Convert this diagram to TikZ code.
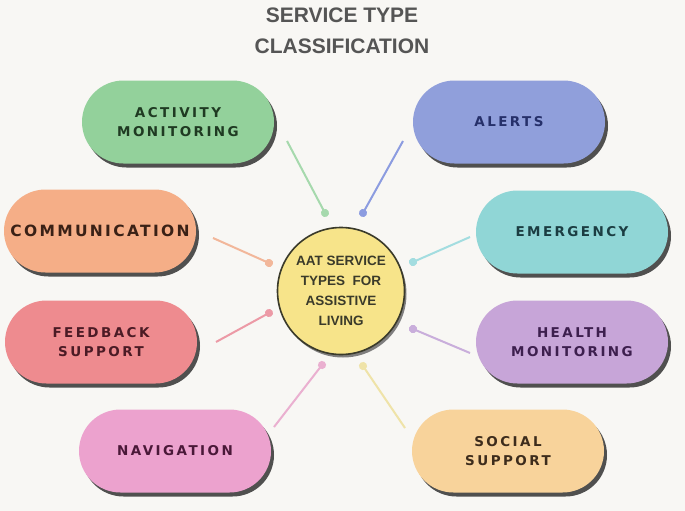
\documentclass[tikz,border=0pt]{standalone}
\usepackage{fontspec}
\setmainfont{Liberation Sans}
\newfontfamily\pillfont{DejaVu Sans}[LetterSpace=18]
\newfontfamily\pillfontb{DejaVu Sans}[LetterSpace=15]
\usetikzlibrary{shadows,calc,arrows.meta}
\definecolor{bgcol}{HTML}{F8F7F4}
\definecolor{titlecol}{HTML}{555555}
\definecolor{fgreen}{HTML}{93D19B}\definecolor{tgreen}{HTML}{1F3A22}\definecolor{lgreen}{HTML}{A6D9AD}
\definecolor{fblue}{HTML}{909FDB}\definecolor{tblue}{HTML}{26306A}\definecolor{lblue}{HTML}{8C9CE0}
\definecolor{fpeach}{HTML}{F5AE87}\definecolor{tpeach}{HTML}{3A2116}\definecolor{lpeach}{HTML}{F2B79A}
\definecolor{fred}{HTML}{EE8B8F}\definecolor{tred}{HTML}{4B1B25}\definecolor{lred}{HTML}{EC9AA6}
\definecolor{fcyan}{HTML}{90D6D6}\definecolor{tcyan}{HTML}{1B3D42}\definecolor{lcyan}{HTML}{A3DDE0}
\definecolor{flilac}{HTML}{C7A5D8}\definecolor{tlilac}{HTML}{3D1F4E}\definecolor{llilac}{HTML}{C9AEDB}
\definecolor{fpink}{HTML}{ECA2CE}\definecolor{tpink}{HTML}{4A1838}\definecolor{lpink}{HTML}{EAB0D0}
\definecolor{fsand}{HTML}{F8D39B}\definecolor{tsand}{HTML}{3D2C1C}\definecolor{lsand}{HTML}{EFE3A8}
\definecolor{fhub}{HTML}{F7E48A}\definecolor{dhub}{HTML}{3A3A2A}
\begin{document}
\begin{tikzpicture}[x=1pt,y=-1pt,
  pill/.style={rectangle, rounded corners=41.5pt, minimum width=192pt, minimum height=83pt,
    inner sep=0pt, align=center,
    font=\pillfont\bfseries\fontsize{13.5}{19.5}\selectfont,
    drop shadow={shadow xshift=3pt, shadow yshift=-4pt, fill=black!80, opacity=0.85}},
  conn/.style={line width=2pt, -{Circle[length=8pt]}, shorten >=-4pt},
  hubstyle/.style={circle, minimum size=127pt, inner sep=0pt, fill=fhub, draw=dhub,
    line width=1.6pt, align=center, text=dhub,
    font=\bfseries\fontsize{13.5}{20}\selectfont,
    drop shadow={shadow xshift=2pt, shadow yshift=-3pt, fill=black!70, opacity=0.7}},
  titlestyle/.style={align=center, text=titlecol, font=\bfseries\fontsize{21}{31}\selectfont}
]
\fill[bgcol] (0,0) rectangle (685,511);
\useasboundingbox (0,0) rectangle (685,511);

\node[titlestyle] (title) at (342,31) {SERVICE TYPE\\CLASSIFICATION};

\node[hubstyle] (hub) at (341,291) {AAT SERVICE\\TYPES\ \ FOR\\ASSISTIVE\\LIVING};

\node[pill, fill=fgreen, text=tgreen] (act) at (178,122) {ACTIVITY\\MONITORING};
\node[pill, fill=fblue, text=tblue] (alr) at (509,122) {ALERTS};
\node[pill, fill=fpeach, text=tpeach, font=\pillfontb\bfseries\fontsize{15.5}{19}\selectfont] (com) at (100,231) {COMMUNICATION};
\node[pill, fill=fred, text=tred] (fdb) at (101,342) {FEEDBACK\\SUPPORT};
\node[pill, fill=fcyan, text=tcyan] (emg) at (572,232) {EMERGENCY};
\node[pill, fill=flilac, text=tlilac] (hlt) at (572,342) {HEALTH\\MONITORING};
\node[pill, fill=fpink, text=tpink] (nav) at (175,451) {NAVIGATION};
\node[pill, fill=fsand, text=tsand] (soc) at (508,451) {SOCIAL\\SUPPORT};

% dot positions around the hub
\coordinate (dact) at ($(hub)+(-16,-78)$);
\coordinate (dalr) at ($(hub)+(22,-78)$);
\coordinate (dcom) at ($(hub)+(-72,-28)$);
\coordinate (dfdb) at ($(hub)+(-72,22)$);
\coordinate (demg) at ($(hub)+(72,-29)$);
\coordinate (dhlt) at ($(hub)+(72,38)$);
\coordinate (dnav) at ($(hub)+(-19,74)$);
\coordinate (dsoc) at ($(hub)+(22,75)$);

\draw[conn, lgreen] ($(act)+(109,19)$) -- (dact);
\draw[conn, lblue] ($(alr)+(-106,19)$) -- (dalr);
\draw[conn, lpeach] ($(com)+(113,7)$) -- (dcom);
\draw[conn, lred] ($(fdb)+(115,0)$) -- (dfdb);
\draw[conn, lcyan] ($(emg)+(-102,5)$) -- (demg);
\draw[conn, llilac] ($(hlt)+(-102,11)$) -- (dhlt);
\draw[conn, lpink] ($(nav)+(99,-24)$) -- (dnav);
\draw[conn, lsand] ($(soc)+(-103,-23)$) -- (dsoc);
\end{tikzpicture}
\end{document}
